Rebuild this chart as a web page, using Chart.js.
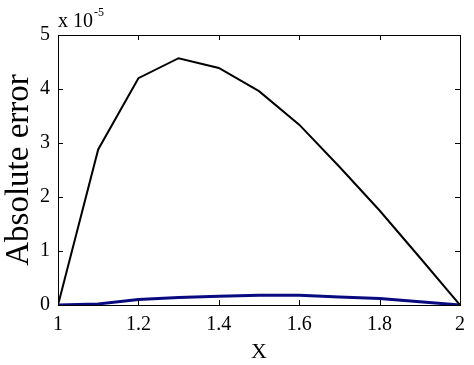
<!DOCTYPE html>
<html>
<head>
<meta charset="utf-8">
<script src="https://cdn.jsdelivr.net/npm/chart.js@4.4.0/dist/chart.umd.min.js"></script>
<style>
  html, body { margin: 0; padding: 0; background: #fff; }
  #wrap { width: 474px; height: 365px; }
</style>
</head>
<body>
<div id="wrap"><canvas id="myChart" width="474" height="365"></canvas></div>
<script>
'use strict';

//========== Data (values in units of 1e-5) ==========
let xValues = [1, 1.1, 1.2, 1.3, 1.4, 1.5, 1.6, 1.7, 1.8, 1.9, 2];
let errorUpper = [0, 2.88, 4.2, 4.57, 4.39, 3.96, 3.34, 2.56, 1.75, 0.88, 0];
let errorLower = [0, 0.02, 0.1, 0.14, 0.16, 0.18, 0.18, 0.15, 0.12, 0.06, 0];
let xTicks = [1, 1.2, 1.4, 1.6, 1.8, 2];
let yTicks = [0, 1, 2, 3, 4, 5];

let serif = '"Liberation Serif", "Times New Roman", serif';

function toPoints(ys) {
  return xValues.map((x, i) => ({ x: x, y: ys[i] }));
}

// box around the plot + inward ticks on all four sides, matlab style
let boxPlugin = {
  id: 'box',
  afterDatasetsDraw(chart) {
    let c = chart.ctx;
    let a = chart.chartArea;
    let xs = chart.scales.x;
    let ys = chart.scales.y;
    c.save();
    c.strokeStyle = '#000';
    c.lineWidth = 1;
    c.strokeRect(a.left + 0.5, a.top + 0.5, a.right - a.left, a.bottom - a.top);
    c.beginPath();
    xTicks.forEach(t => {
      let px = Math.round(xs.getPixelForValue(t)) + 0.5;
      c.moveTo(px, a.bottom); c.lineTo(px, a.bottom - 5);
      c.moveTo(px, a.top); c.lineTo(px, a.top + 5);
    });
    yTicks.forEach(t => {
      let py = Math.round(ys.getPixelForValue(t)) + 0.5;
      c.moveTo(a.left, py); c.lineTo(a.left + 5, py);
      c.moveTo(a.right, py); c.lineTo(a.right - 5, py);
    });
    c.stroke();
    // exponent label
    c.fillStyle = '#000';
    c.textBaseline = 'alphabetic';
    c.font = '20px ' + serif;
    c.fillText('x 10', a.left, a.top - 8);
    let w = c.measureText('x 10').width;
    c.font = '12px ' + serif;
    c.fillText('-5', a.left + w + 1, a.top - 19);
    c.restore();
  }
};

let ctx = document.getElementById('myChart').getContext('2d');

let myChartObj = {
  type: 'line',
  data: {
    datasets: [{
      data: toPoints(errorUpper),
      borderColor: '#000000',
      borderWidth: 2,
      pointRadius: 0,
      tension: 0
    },
    {
      data: toPoints(errorLower),
      borderColor: '#0a0a80',
      borderWidth: 3,
      pointRadius: 0,
      tension: 0
    }]
  },
  options: {
    responsive: false,
    animation: false,
    layout: { padding: { top: 35, right: 14, left: 0, bottom: 0 } },
    plugins: {
      legend: { display: false },
      tooltip: { enabled: false }
    },
    scales: {
      x: {
        type: 'linear',
        min: 1,
        max: 2,
        afterBuildTicks: s => { s.ticks = xTicks.map(v => ({ value: v })); },
        afterFit: s => { s.height = 60; },
        grid: { display: false, drawTicks: false },
        border: { display: false },
        ticks: {
          color: '#000',
          padding: 8,
          maxRotation: 0,
          callback: v => String(v),
          font: { family: serif, size: 20 }
        },
        title: {
          display: true,
          text: 'X',
          color: '#000',
          padding: { top: 4, bottom: 0 },
          font: { family: serif, size: 22 }
        }
      },
      y: {
        min: 0,
        max: 5,
        afterBuildTicks: s => { s.ticks = yTicks.map(v => ({ value: v })); },
        afterFit: s => { s.width = 58; },
        grid: { display: false, drawTicks: false },
        border: { display: false },
        ticks: {
          color: '#000',
          padding: 8,
          callback: v => String(v),
          font: { family: serif, size: 20 }
        },
        title: {
          display: true,
          text: 'Absolute error',
          color: '#000',
          padding: { top: 0, bottom: 0 },
          font: { family: serif, size: 33 }
        }
      }
    }
  },
  plugins: [boxPlugin]
};

let myChart = new Chart(ctx, myChartObj);
</script>
</body>
</html>
